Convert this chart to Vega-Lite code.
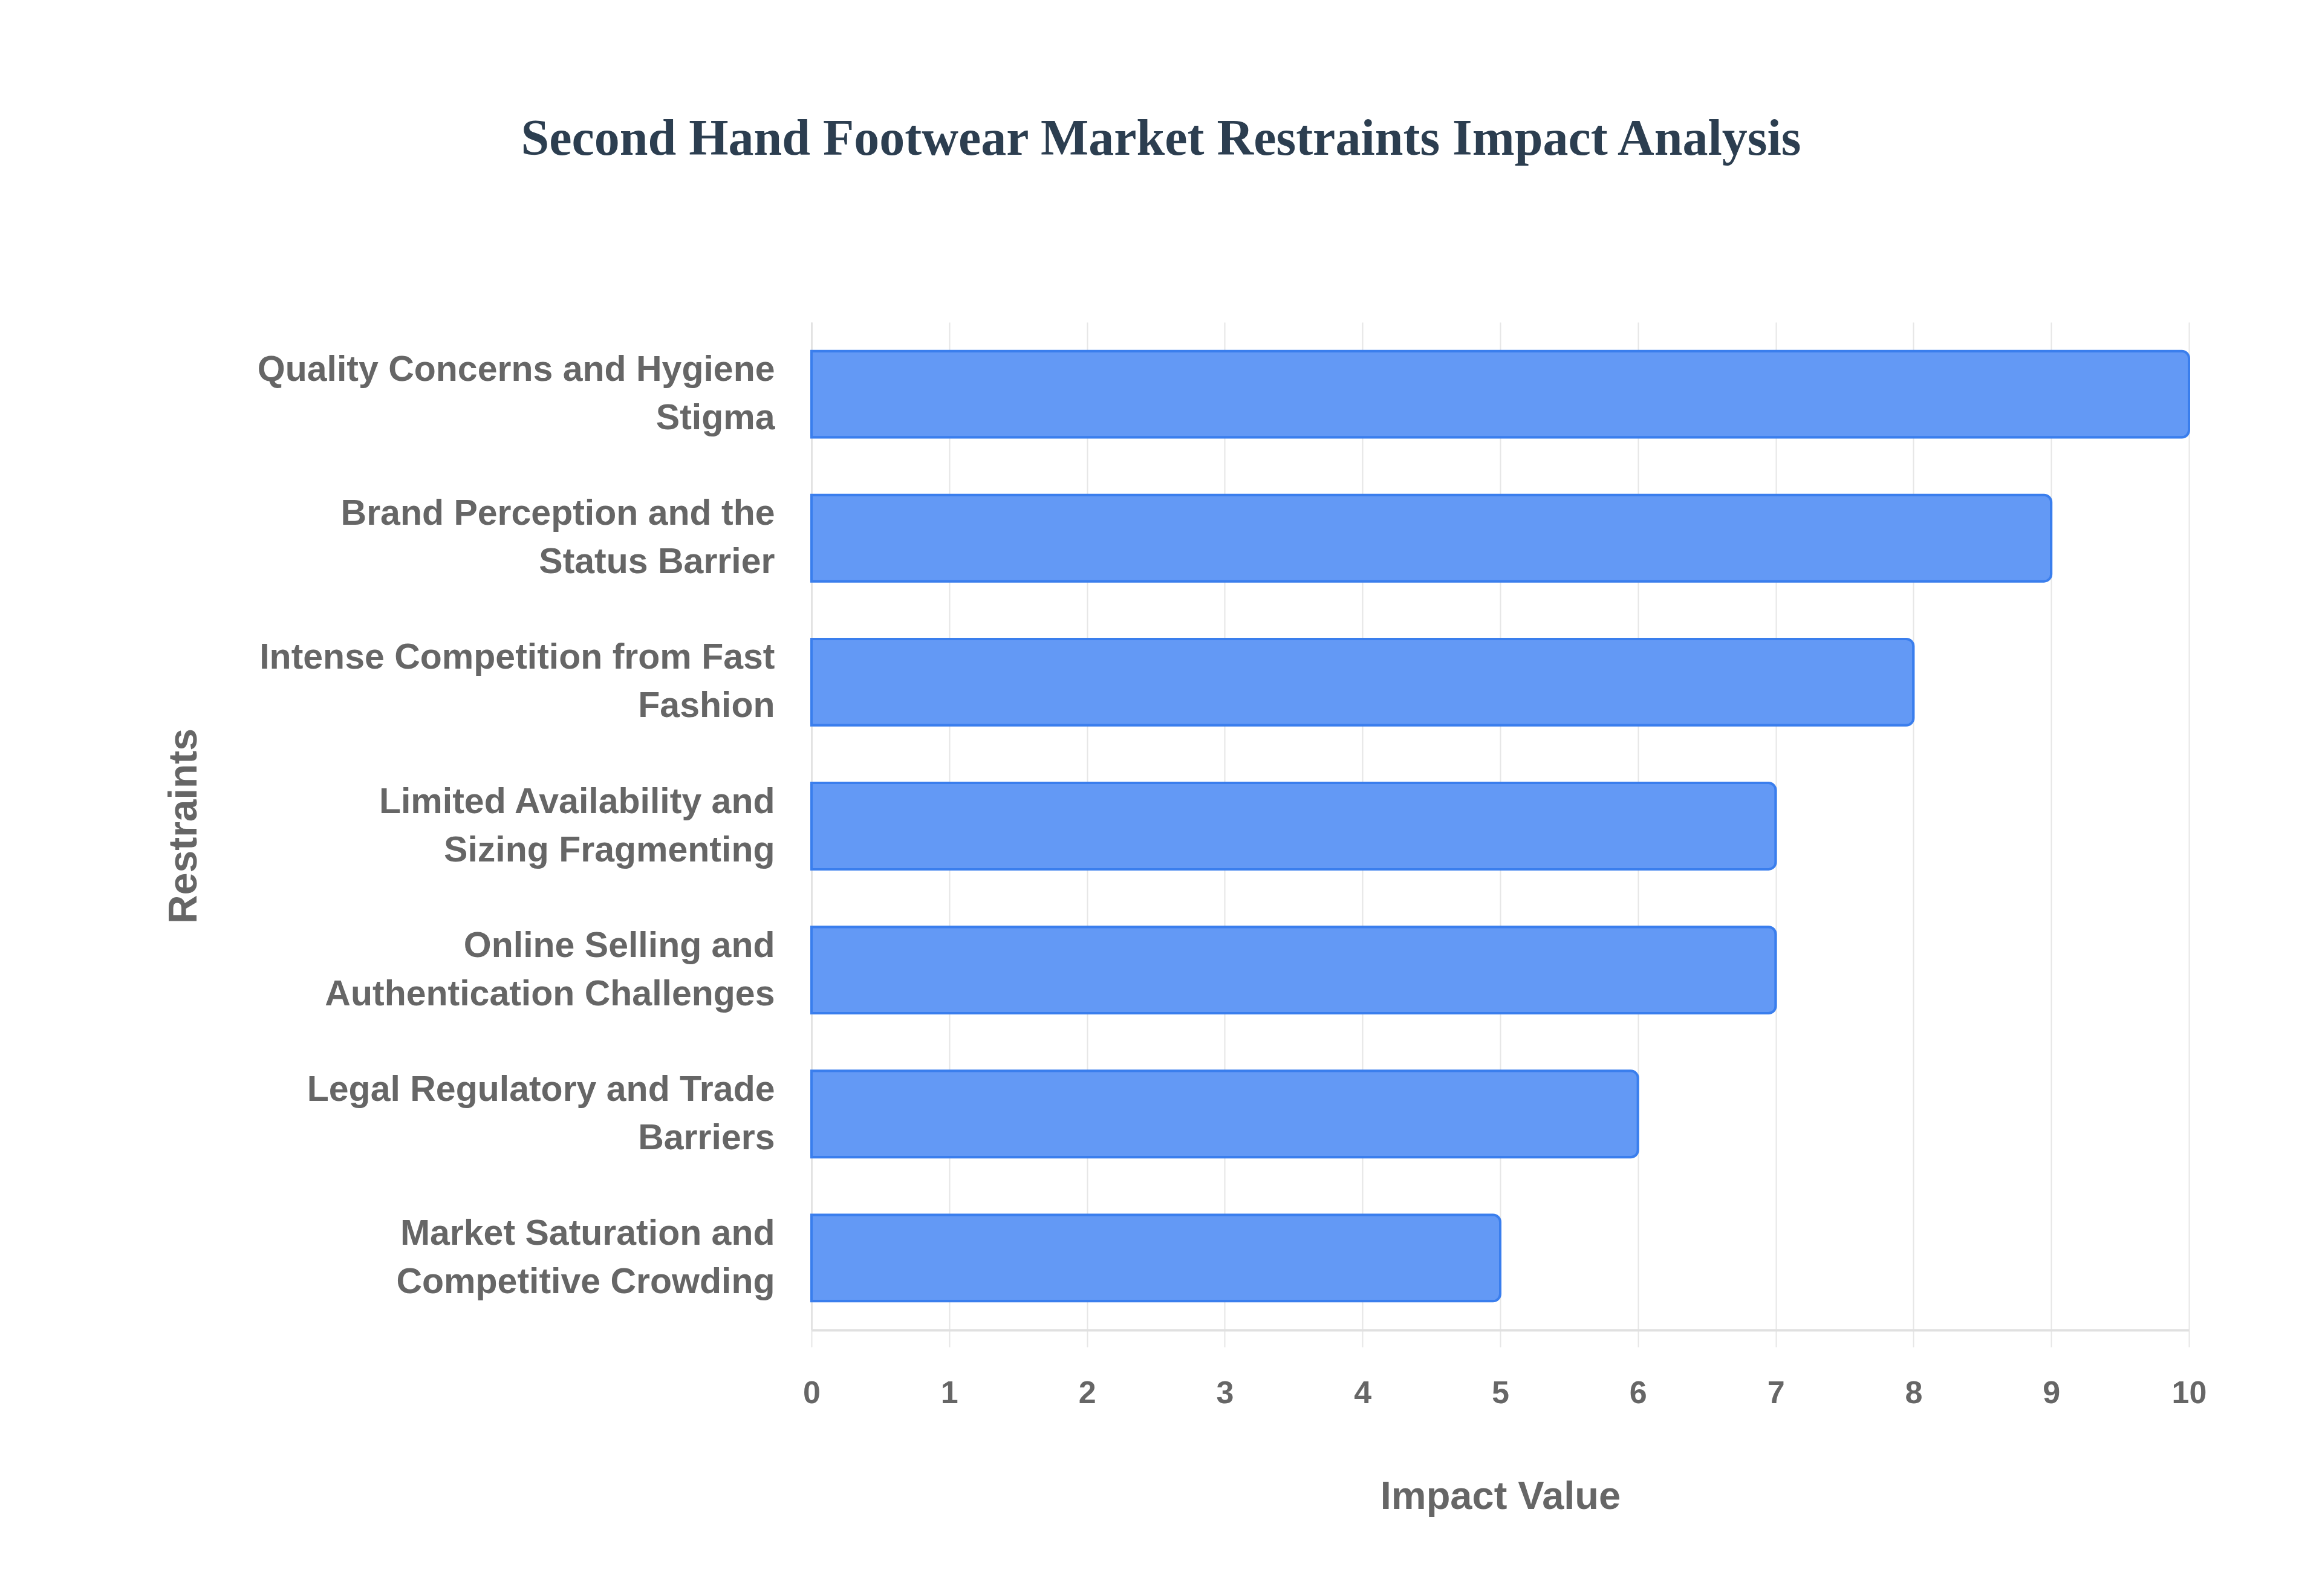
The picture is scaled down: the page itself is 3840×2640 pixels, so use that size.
{
  "$schema": "https://vega.github.io/schema/vega-lite/v6.json",
  "autosize": {"type": "none"},
  "padding": {"left": 1342, "top": 533, "right": 220, "bottom": 440},
  "width": 2278,
  "height": 1667,
  "background": "white",
  "config": {
    "view": {"stroke": null},
    "font": "Liberation Sans"
  },
  "title": {
    "text": "Second Hand Footwear Market Restraints Impact Analysis",
    "font": "Liberation Serif",
    "fontSize": 84,
    "fontWeight": "bold",
    "color": "#2c3e50",
    "anchor": "middle",
    "frame": "group",
    "dx": -561,
    "baseline": "middle",
    "offset": 218
  },
  "data": {
    "values": [
      {"restraint": "Quality Concerns and Hygiene Stigma", "impact": 10},
      {"restraint": "Brand Perception and the Status Barrier", "impact": 9},
      {"restraint": "Intense Competition from Fast Fashion", "impact": 8},
      {"restraint": "Limited Availability and Sizing Fragmenting", "impact": 7},
      {"restraint": "Online Selling and Authentication Challenges", "impact": 7},
      {"restraint": "Legal Regulatory and Trade Barriers", "impact": 6},
      {"restraint": "Market Saturation and Competitive Crowding", "impact": 5}
    ]
  },
  "mark": {
    "type": "bar",
    "fill": "#6399f5",
    "stroke": "#3a7eed",
    "strokeWidth": 4,
    "cornerRadiusEnd": 12
  },
  "encoding": {
    "y": {
      "field": "restraint",
      "type": "nominal",
      "sort": null,
      "scale": {"paddingInner": 0.4, "paddingOuter": 0.2},
      "axis": {
        "title": "Restraints",
        "titleFont": "Liberation Sans",
        "titleFontSize": 66,
        "titleFontWeight": "bold",
        "titleColor": "#666666",
        "titleAngle": -90,
        "titleX": -1038,
        "titleY": 833,
        "titleAlign": "center",
        "titleBaseline": "middle",
        "labelFont": "Liberation Sans",
        "labelFontSize": 59,
        "labelFontWeight": "bold",
        "labelColor": "#666666",
        "labelLineHeight": 80,
        "labelLimit": 0,
        "labelPadding": 61,
        "labelAlign": "right",
        "labelBaseline": "middle",
        "labelOffset": -40,
        "ticks": false,
        "grid": false,
        "domain": true,
        "domainColor": "#e3e3e3",
        "domainWidth": 3,
        "labelExpr": "datum.value == 'Quality Concerns and Hygiene Stigma' ? ['Quality Concerns and Hygiene', 'Stigma'] : datum.value == 'Brand Perception and the Status Barrier' ? ['Brand Perception and the', 'Status Barrier'] : datum.value == 'Intense Competition from Fast Fashion' ? ['Intense Competition from Fast', 'Fashion'] : datum.value == 'Limited Availability and Sizing Fragmenting' ? ['Limited Availability and', 'Sizing Fragmenting'] : datum.value == 'Online Selling and Authentication Challenges' ? ['Online Selling and', 'Authentication Challenges'] : datum.value == 'Legal Regulatory and Trade Barriers' ? ['Legal Regulatory and Trade', 'Barriers'] : ['Market Saturation and', 'Competitive Crowding']"
      }
    },
    "x": {
      "field": "impact",
      "type": "quantitative",
      "scale": {"domain": [0, 10], "nice": false},
      "axis": {
        "title": "Impact Value",
        "titleFont": "Liberation Sans",
        "titleFontSize": 65,
        "titleFontWeight": "bold",
        "titleColor": "#666666",
        "titleX": 1139,
        "titleY": 275,
        "titleAlign": "center",
        "titleBaseline": "middle",
        "values": [0, 1, 2, 3, 4, 5, 6, 7, 8, 9, 10],
        "labelFont": "Liberation Sans",
        "labelFontSize": 52,
        "labelFontWeight": "bold",
        "labelColor": "#666666",
        "labelBaseline": "middle",
        "labelPadding": 76,
        "labelFlush": false,
        "ticks": true,
        "tickSize": 28,
        "tickColor": "#e6e6e6",
        "tickWidth": 2,
        "grid": true,
        "gridColor": "#e6e6e6",
        "gridWidth": 2,
        "domain": true,
        "domainColor": "#e0e0e0",
        "domainWidth": 4
      }
    }
  }
}
